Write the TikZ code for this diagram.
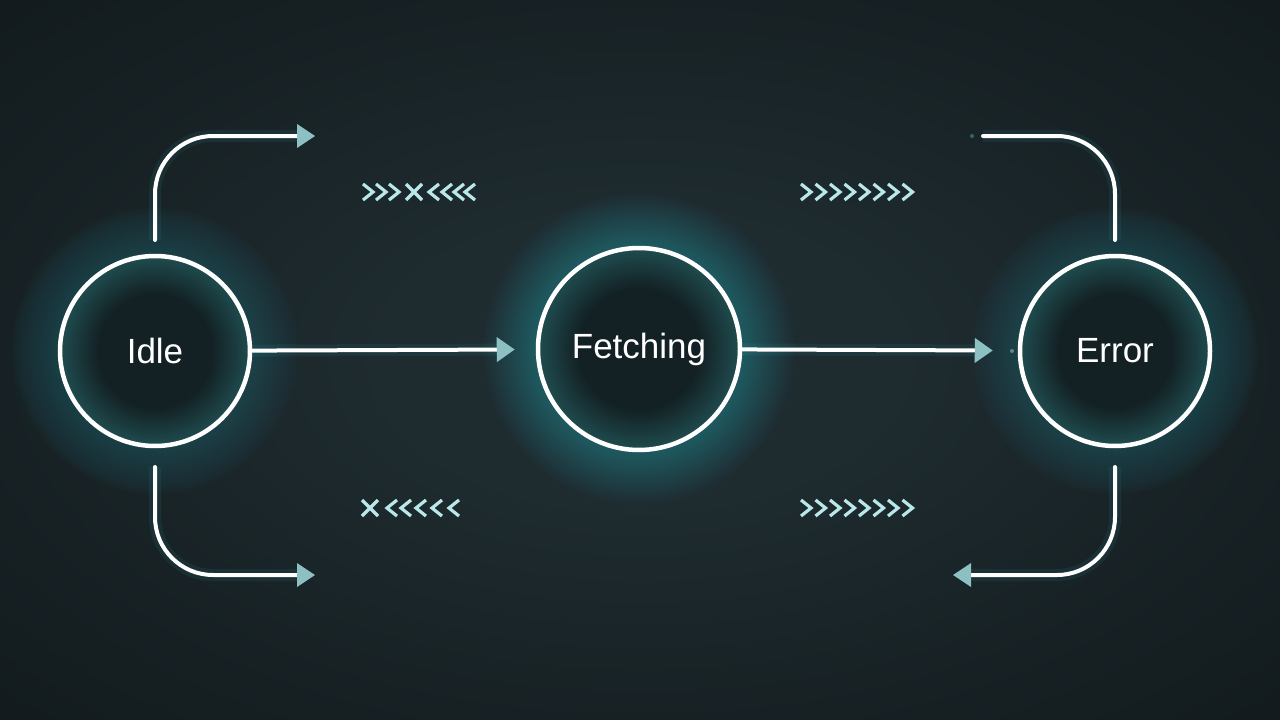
\documentclass[tikz,border=0pt]{standalone}
\usepackage{fontspec}
\setmainfont{Liberation Sans}
\usetikzlibrary{arrows.meta,calc}
\definecolor{bgmid}{HTML}{1E2B2F}
\definecolor{bgedge}{HTML}{121A1D}
\definecolor{glowc}{HTML}{2FA9B2}
\definecolor{inC}{HTML}{132124}
\definecolor{outC}{HTML}{1F4C4F}
\definecolor{headc}{HTML}{8CC0C2}
\definecolor{chevc}{HTML}{B8E8EA}
\definecolor{dotc}{HTML}{5A8A8C}
\pgfdeclareradialshading{bgshade}{\pgfpoint{0bp}{0bp}}{color(0bp)=(bgmid); color(10bp)=(bgmid); color(36bp)=(bgedge); color(50bp)=(bgedge)}
\pgfdeclareradialshading{ringglow}{\pgfpoint{0bp}{0bp}}{color(0bp)=(inC); color(15bp)=(inC); color(25bp)=(outC); color(50bp)=(outC)}
\newcommand\chevR[2]{\draw[chev] (#1-5,#2-8) -- (#1+5,#2) -- (#1-5,#2+8);}
\newcommand\chevL[2]{\draw[chev] (#1+5,#2-8) -- (#1-5,#2) -- (#1+5,#2+8);}
\newcommand\chevX[2]{\draw[chev] (#1-8,#2-8) -- (#1+8,#2+8) (#1+8,#2-8) -- (#1-8,#2+8);}
\begin{document}
\begin{tikzpicture}[x=1pt,y=-1pt,
  state/.style={circle, draw=white, line width=4.5pt, minimum size=#1, inner sep=0pt,
    shade, shading=ringglow, text=white, font=\fontsize{35}{40}\selectfont},
  wire/.style={draw=white, line width=4pt, line cap=round,
    preaction={draw=glowc, line width=12pt, opacity=0.10}},
  tip/.style={-{Triangle[length=18pt,width=24pt,color=headc]}},
  chev/.style={draw=chevc, line width=3.2pt, line cap=butt, line join=miter},
  glow/.style={draw=glowc, opacity=0.015}
]
\useasboundingbox (0,0) rectangle (1280,720);
\clip (0,0) rectangle (1280,720);
\shade[shading=bgshade] (0,0) rectangle (1280,720);

% glows behind the states
\foreach \k in {1,...,24} {
  \draw[glow, line width=\k*4pt] (155,351) circle (95pt);
  \draw[glow, opacity=0.025, line width=\k*4.6pt] (639,349) circle (101pt);
  \draw[glow, line width=\k*4pt] (1115,351) circle (95pt);
}

\node[state=190pt] (idle) at (155,351) {Idle};
\node[state=202pt] (fetch) at (639,349) {Fetching};
\node[state=190pt] (error) at (1115,351) {Error};

% straight transitions
\draw[wire, tip, shorten >=21pt] (idle) -- (fetch);
\draw[wire, tip, shorten >=25pt] (fetch) -- (error);
\fill[dotc] (1012,351) circle (2pt);

% curved side arrows
\coordinate (tlA) at (155,240);
\coordinate (tlB) at (297,136);
\coordinate (blA) at (155,467);
\coordinate (blB) at (297,575);
\coordinate (trA) at (983,136);
\coordinate (trB) at (1115,240);
\coordinate (brA) at (1115,467);
\coordinate (brB) at (971,575);
\draw[wire, rounded corners=58pt] (tlA) |- (tlB);
\fill[headc] (tlB) ++(0,-12) -- ++(18,12) -- ++(-18,12) -- cycle;
\draw[wire, rounded corners=58pt] (blA) |- (blB);
\fill[headc] (blB) ++(0,-12) -- ++(18,12) -- ++(-18,12) -- cycle;
\draw[wire, rounded corners=58pt] (trA) -| (trB);
\fill[dotc, opacity=0.6] (972,136) circle (2pt);
\draw[wire, rounded corners=58pt] (brA) |- (brB);
\fill[headc] (brB) ++(0,-12) -- ++(-18,12) -- ++(18,12) -- cycle;

% chevron labels
\chevR{368}{192}\chevR{381}{192}\chevR{394}{192}
\chevX{414}{192}
\chevL{434}{192}\chevL{447}{192}\chevL{459}{192}\chevL{470}{192}

\foreach \i in {0,...,7} {\chevR{806+\i*14.5}{192}}

\chevX{370}{508}
\chevL{392}{508}\chevL{406}{508}\chevL{421}{508}\chevL{437}{508}\chevL{454}{508}

\foreach \i in {0,...,7} {\chevR{806+\i*14.5}{508}}
\end{tikzpicture}
\end{document}
